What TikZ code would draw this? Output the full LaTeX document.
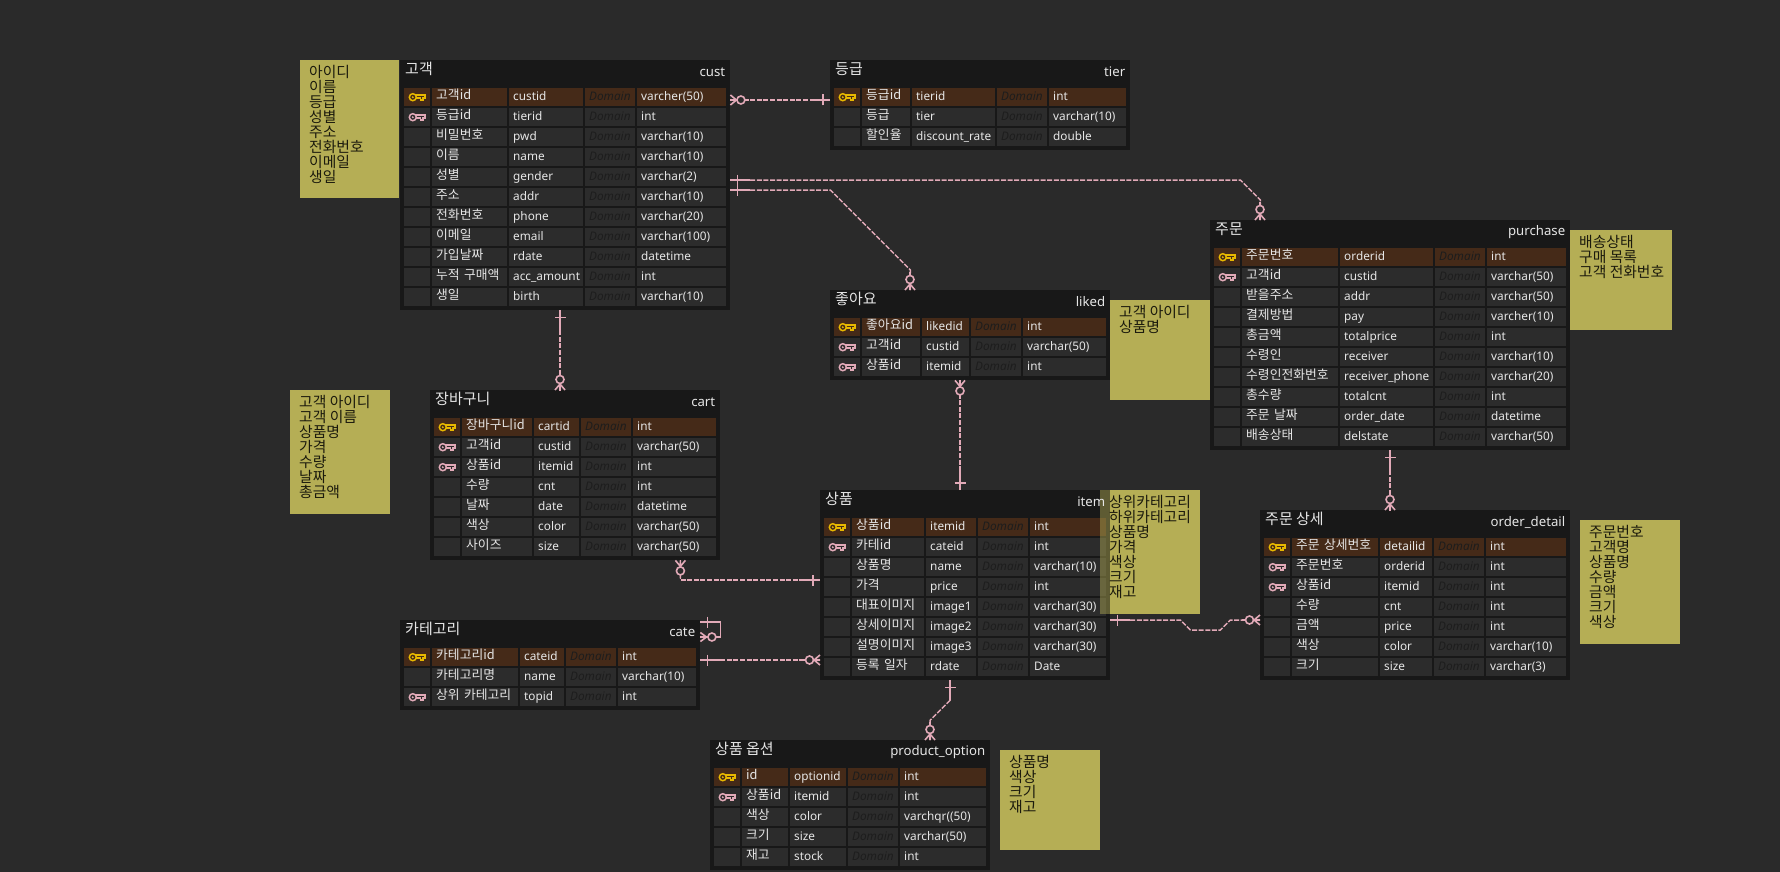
\documentclass[tikz,border=0pt]{standalone}
\usepackage{fontspec}
\setmainfont{Noto Sans CJK KR}
\newfontfamily\latinfont{Noto Sans}
\definecolor{bgcol}{HTML}{2A2A2A}
\definecolor{tabcol}{HTML}{181818}
\definecolor{rowcol}{HTML}{2C2C2C}
\definecolor{pkcol}{HTML}{452A18}
\definecolor{notecol}{HTML}{B5AE55}
\definecolor{textcol}{HTML}{E6E6E6}
\definecolor{domcol}{HTML}{1D1D1D}
\definecolor{relcol}{HTML}{E2AAB8}
\definecolor{goldcol}{HTML}{E8B800}
\tikzset{
  tablebox/.style={fill=tabcol,anchor=north west,inner sep=0pt},
  cell/.style={anchor=north west,minimum height=18pt,inner xsep=4pt,inner ysep=0pt,
    text height=9pt,text depth=3pt,align=left,text=textcol,font=\fontsize{11.8}{14}\selectfont\latinfont},
  cellw/.style={minimum width=#1 pt,text width=#1 pt-8pt},
  namecell/.style={cell,font=\fontsize{12.8}{14}\selectfont},
  domcell/.style={cell,text=domcol,font=\fontsize{11.8}{14}\selectfont\latinfont\itshape},
  titlel/.style={anchor=west,inner sep=0pt,text=textcol,font=\fontsize{15}{16}\selectfont},
  titler/.style={anchor=east,inner sep=0pt,text=textcol,font=\fontsize{13.2}{16}\selectfont\latinfont},
  notebox/.style={fill=notecol,anchor=north west,inner sep=0pt},
  notetext/.style={anchor=north west,inner sep=0pt,align=left,text=black!85!notecol,
    font=\fontsize{14.8}{15}\selectfont},
  rel/.style={draw=relcol,line width=1.5pt,dash pattern=on 5pt off 1.6pt},
  relsolid/.style={draw=relcol,line width=1.6pt},
  pics/keyicon/.style={code={
    \draw[line width=1.5pt] (-4.4,0) circle (3.5);
    \fill (-4.4,0) circle (1.1);
    \draw[line width=1.5pt] (-1,-2.2) -- (8,-2.2) -- (8,0.8) -- (6,0.8) -- (6,3) -- (3.4,3) -- (3.4,1) -- (-1,1);
  }},
  pics/zeromany/.style={code={
    \draw[relsolid] (0,-5) -- (6,0) (0,5) -- (6,0) (0,0) -- (18,0);
    \draw[relsolid,fill=bgcol] (10.5,0) circle (4);
  }},
  pics/onebar/.style={code={
    \draw[relsolid] (0,0) -- (20,0) (7,-5.5) -- (7,5.5);
  }},
}
\newcommand{\ertable}[9]{
  \node[tablebox,minimum width=#4 pt-#2 pt,minimum height=#5 pt-#3 pt] (#1) at (#2,#3) {};
  \def\tabname{#1}
  \def\tabtop{#3}
  \def\tabend{#4}
  \def\tabx{#2}
  \def\cola{#6}
  \def\colb{#7}
  \def\colc{#8}
  \def\cold{#9}
  \def\rowno{0}
}
\newcommand{\ertitle}[3]{
  \node[titlel] (#1k) at ([xshift=5pt,yshift=-9pt]#1.north west) {#2};
  \node[titler] (#1e) at ([xshift=-5pt,yshift=-12pt]#1.north east) {#3};
}
\newcommand{\erow}[4]{
  \pgfmathtruncatemacro{\rowno}{\rowno+1}
  \pgfmathsetmacro{\rowy}{\tabtop+28+(\rowno-1)*20}
  \pgfmathsetmacro{\xicon}{\tabx+4}
  \node[cell,cellw=26,fill=#1] (\tabname\rowno i) at (\xicon,\rowy) {};
  \node[namecell,cellw=\colb-\cola-2,fill=#1] (\tabname\rowno n) at (\cola,\rowy) {\raisebox{1pt}{#2}};
  \node[cell,cellw=\colc-\colb-2,fill=#1] (\tabname\rowno l) at (\colb,\rowy) {#3};
  \node[domcell,cellw=\cold-\colc-2,fill=#1] (\tabname\rowno d) at (\colc,\rowy) {Domain};
  \node[cell,cellw=\tabend-4-\cold,fill=#1] (\tabname\rowno t) at (\cold,\rowy) {#4};
}
\newcommand{\pkrow}[3]{\erow{pkcol}{#1}{#2}{#3}
  \pic[color=goldcol] at (\tabname\rowno i.center) {keyicon};}
\newcommand{\fkrow}[3]{\erow{rowcol}{#1}{#2}{#3}
  \pic[color=relcol] at (\tabname\rowno i.center) {keyicon};}
\newcommand{\plainrow}[3]{\erow{rowcol}{#1}{#2}{#3}}
\newcommand{\ernote}[6]{
  \node[notebox,minimum width=#4 pt-#2 pt,minimum height=#5 pt-#3 pt] (#1) at (#2,#3) {};
  \node[notetext] (#1t) at ([xshift=9pt,yshift=-5.5pt]#1.north west) {#6};
}
\begin{document}
\begin{tikzpicture}[x=1pt,y=-1pt]
  \useasboundingbox (0,0) rectangle (1780,872);
  \fill[bgcol] (0,0) rectangle (1780,872);

  \ernote{notecust}{300}{60}{399}{198}{아이디\\이름\\등급\\성별\\주소\\전화번호\\이메일\\생일}
  \ernote{notecart}{290}{390}{390}{514}{고객 아이디\\고객 이름\\상품명\\가격\\수량\\날짜\\총금액}
  \ernote{noteliked}{1110}{300}{1210}{400}{고객 아이디\\상품명}
  \ernote{notepurchase}{1570}{230}{1672}{330}{배송상태\\구매 목록\\고객 전화번호}
  \ernote{notedetail}{1580}{520}{1680}{644}{주문번호\\고객명\\상품명\\수량\\금액\\크기\\색상}
  \ernote{noteoption}{1000}{750}{1100}{850}{상품명\\색상\\크기\\재고}

  \ertable{cust}{400}{60}{730}{310}{432}{509}{585}{637}
  \pkrow{고객id}{custid}{varcher(50)}
  \fkrow{등급id}{tierid}{int}
  \plainrow{비밀번호}{pwd}{varchar(10)}
  \plainrow{이름}{name}{varchar(10)}
  \plainrow{성별}{gender}{varchar(2)}
  \plainrow{주소}{addr}{varchar(10)}
  \plainrow{전화번호}{phone}{varchar(20)}
  \plainrow{이메일}{email}{varchar(100)}
  \plainrow{가입날짜}{rdate}{datetime}
  \plainrow{누적 구매액}{acc\_amount}{int}
  \plainrow{생일}{birth}{varchar(10)}
  \ertitle{cust}{고객}{cust}

  \ertable{tier}{830}{60}{1130}{150}{862}{912}{997}{1049}
  \pkrow{등급id}{tierid}{int}
  \plainrow{등급}{tier}{varchar(10)}
  \plainrow{할인율}{discount\_rate}{double}
  \ertitle{tier}{등급}{tier}

  \ertable{liked}{830}{290}{1110}{380}{862}{922}{971}{1023}
  \pkrow{좋아요id}{likedid}{int}
  \fkrow{고객id}{custid}{varchar(50)}
  \fkrow{상품id}{itemid}{int}
  \ertitle{liked}{좋아요}{liked}

  \ertable{purchase}{1210}{220}{1570}{450}{1242}{1340}{1435}{1487}
  \pkrow{주문번호}{orderid}{int}
  \fkrow{고객id}{custid}{varchar(50)}
  \plainrow{받을주소}{addr}{varchar(50)}
  \plainrow{결제방법}{pay}{varcher(10)}
  \plainrow{총금액}{totalprice}{int}
  \plainrow{수령인}{receiver}{varchar(10)}
  \plainrow{수령인전화번호}{receiver\_phone}{varchar(20)}
  \plainrow{총수량}{totalcnt}{int}
  \plainrow{주문 날짜}{order\_date}{datetime}
  \plainrow{배송상태}{delstate}{varchar(50)}
  \ertitle{purchase}{주문}{purchase}

  \ertable{cart}{430}{390}{720}{560}{462}{534}{581}{633}
  \pkrow{장바구니id}{cartid}{int}
  \fkrow{고객id}{custid}{varchar(50)}
  \fkrow{상품id}{itemid}{int}
  \plainrow{수량}{cnt}{int}
  \plainrow{날짜}{date}{datetime}
  \plainrow{색상}{color}{varchar(50)}
  \plainrow{사이즈}{size}{varchar(50)}
  \ertitle{cart}{장바구니}{cart}

  \ertable{item}{820}{490}{1110}{680}{852}{926}{978}{1030}
  \pkrow{상품id}{itemid}{int}
  \fkrow{카테id}{cateid}{int}
  \plainrow{상품명}{name}{varchar(10)}
  \plainrow{가격}{price}{int}
  \plainrow{대표이미지}{image1}{varchar(30)}
  \plainrow{상세이미지}{image2}{varchar(30)}
  \plainrow{설명이미지}{image3}{varchar(30)}
  \plainrow{등록 일자}{rdate}{Date}
  \fill[notecol,opacity=.45] (1100,490) rectangle (1110,614);
  \ernote{noteitem}{1110}{490}{1200}{614}{}
  \node[notetext] (noteitemt) at ([xshift=-1pt,yshift=-5.5pt]noteitem.north west) {상위카테고리\\하위카테고리\\상품명\\가격\\색상\\크기\\재고};
  \ertitle{item}{상품}{item}

  \ertable{detail}{1260}{510}{1570}{680}{1292}{1380}{1434}{1486}
  \pkrow{주문 상세번호}{detailid}{int}
  \fkrow{주문번호}{orderid}{int}
  \fkrow{상품id}{itemid}{int}
  \plainrow{수량}{cnt}{int}
  \plainrow{금액}{price}{int}
  \plainrow{색상}{color}{varchar(10)}
  \plainrow{크기}{size}{varchar(3)}
  \ertitle{detail}{주문 상세}{order\_detail}

  \ertable{cate}{400}{620}{700}{710}{432}{520}{566}{618}
  \pkrow{카테고리id}{cateid}{int}
  \plainrow{카테고리명}{name}{varchar(10)}
  \fkrow{상위 카테고리}{topid}{int}
  \ertitle{cate}{카테고리}{cate}

  \ertable{option}{710}{740}{990}{870}{742}{790}{848}{900}
  \pkrow{id}{optionid}{int}
  \fkrow{상품id}{itemid}{int}
  \plainrow{색상}{color}{varchqr((50)}
  \plainrow{크기}{size}{varchar(50)}
  \plainrow{재고}{stock}{int}
  \ertitle{option}{상품 옵션}{product\_option}

  \draw[rel] ([yshift=-40pt]cust.north east) -- ([yshift=-40pt]tier.north west);
  \pic at ([yshift=-40pt]cust.north east) {zeromany};
  \pic[rotate=180] at ([yshift=-40pt]tier.north west) {onebar};

  \coordinate (custpurchase) at ([yshift=-120pt]cust.north east);
  \coordinate (purchasecust) at ([xshift=50pt]purchase.north west);
  \draw[rel] (custpurchase) -- ++(510,0) -- ++(20,20) -- (purchasecust);
  \pic at (custpurchase) {onebar};
  \pic[rotate=90] at (purchasecust) {zeromany};

  \coordinate (custliked) at ([yshift=-130pt]cust.north east);
  \coordinate (likedcust) at ([xshift=80pt]liked.north west);
  \draw[rel] (custliked) -- ++(100,0) -- ++(80,80) -- (likedcust);
  \pic at (custliked) {onebar};
  \pic[rotate=90] at (likedcust) {zeromany};

  \coordinate (custcart) at ([xshift=160pt]cust.south west);
  \coordinate (cartcust) at ([xshift=130pt]cart.north west);
  \draw[rel] (custcart) -- (cartcust);
  \pic[rotate=-90] at (custcart) {onebar};
  \pic[rotate=90] at (cartcust) {zeromany};

  \coordinate (cartitem) at ([xshift=-40pt]cart.south east);
  \coordinate (itemcart) at ([yshift=-90pt]item.north west);
  \draw[rel] (cartitem) -- (cartitem |- itemcart) -- (itemcart);
  \pic[rotate=-90] at (cartitem) {zeromany};
  \pic[rotate=180] at (itemcart) {onebar};

  \draw[relsolid] ([yshift=-2pt]cate.north east) -- ++(20,0) -- ++(0,15) -- ++(-20,0);
  \draw[relsolid] ([xshift=7pt,yshift=3.5pt]cate.north east) -- ([xshift=7pt,yshift=-7.5pt]cate.north east);
  \draw[relsolid] ([yshift=-12.5pt]cate.north east) -- ([xshift=6pt,yshift=-17pt]cate.north east);
  \draw[relsolid] ([yshift=-21.5pt]cate.north east) -- ([xshift=6pt,yshift=-17pt]cate.north east);
  \draw[relsolid,fill=bgcol] ([xshift=11.5pt,yshift=-17pt]cate.north east) circle (4pt);

  \coordinate (cateitem) at ([yshift=-40pt]cate.north east);
  \coordinate (itemcate) at ([yshift=-170pt]item.north west);
  \draw[rel] (cateitem) -- (itemcate);
  \pic at (cateitem) {onebar};
  \pic[rotate=180] at (itemcate) {zeromany};

  \coordinate (likeditem) at ([xshift=130pt]liked.south west);
  \coordinate (itemliked) at ([xshift=140pt]item.north west);
  \draw[rel] (likeditem) -- (itemliked);
  \pic[rotate=-90] at (likeditem) {zeromany};
  \pic[rotate=90] at (itemliked) {onebar};

  \coordinate (itemdetail) at ([yshift=-130pt]item.north east);
  \coordinate (detailitem) at ([yshift=-110pt]detail.north west);
  \draw[rel] (itemdetail) -- ++(70,0) -- ++(10,10) -- ++(30,0) -- ++(10,-10) -- (detailitem);
  \pic at (itemdetail) {onebar};
  \pic[rotate=180] at (detailitem) {zeromany};

  \coordinate (purchasedetail) at ([xshift=180pt]purchase.south west);
  \coordinate (detailpurchase) at ([xshift=130pt]detail.north west);
  \draw[rel] (purchasedetail) -- (detailpurchase);
  \pic[rotate=-90] at (purchasedetail) {onebar};
  \pic[rotate=90] at (detailpurchase) {zeromany};

  \coordinate (itemoption) at ([xshift=130pt]item.south west);
  \coordinate (optionitem) at ([xshift=220pt]option.north west);
  \draw[rel] (itemoption) -- ++(0,20) -- ++(-20,20) -- (optionitem);
  \pic[rotate=-90] at (itemoption) {onebar};
  \pic[rotate=90] at (optionitem) {zeromany};
\end{tikzpicture}
\end{document}
